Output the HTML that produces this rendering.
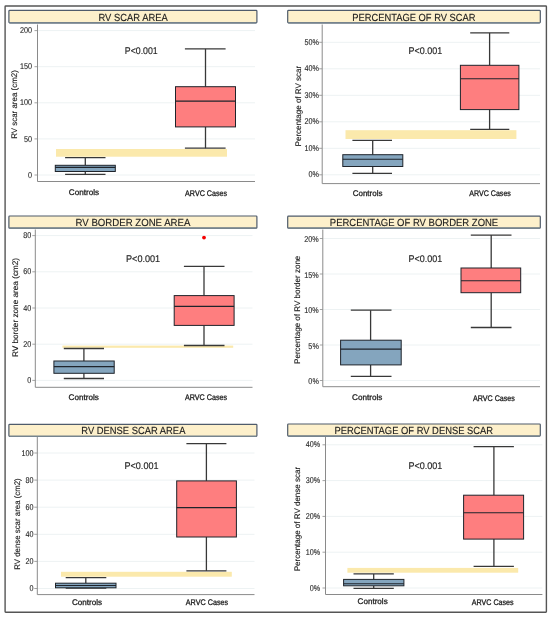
<!DOCTYPE html>
<html><head><meta charset="utf-8"><style>
html,body{margin:0;padding:0;background:#fff;}
body{width:550px;height:617px;overflow:hidden;}
svg{display:block;will-change:transform;text-rendering:geometricPrecision;font-family:"Liberation Sans",sans-serif;}
.t{fill:#1e1e1e;stroke:#1e1e1e;stroke-width:0.15px;}
.tc{fill:#1e1e1e;stroke:#1e1e1e;stroke-width:0.3px;}
.tl{fill:#262626;stroke:#262626;stroke-width:0.12px;}
</style></head><body>
<svg width="550" height="617" viewBox="0 0 550 617" xmlns="http://www.w3.org/2000/svg">
<rect x="5.1" y="5.95" width="541.3" height="606.25" fill="none" stroke="#555" stroke-width="1.4" rx="0.6"/>
<rect x="8.90" y="10.45" width="248.00" height="12.45" fill="#fdf0cb" stroke="#4f5b6b" stroke-width="1.2" rx="0.8"/>
<line x1="9.50" y1="22.90" x2="256.30" y2="22.90" stroke="#76858f" stroke-width="1.2"/>
<text x="98.50" y="20.60" font-size="10.3" class="t" textLength="69.20" lengthAdjust="spacingAndGlyphs" fill="#111">RV SCAR AREA</text>
<line x1="38.00" y1="175.00" x2="255.00" y2="175.00" stroke="#edf2f3" stroke-width="1"/>
<line x1="34.50" y1="175.00" x2="37.50" y2="175.00" stroke="#8a8a8a" stroke-width="0.8"/>
<text x="32.00" y="177.60" font-size="8.4" text-anchor="end" textLength="4.02" lengthAdjust="spacingAndGlyphs" class="tl">0</text>
<line x1="38.00" y1="138.90" x2="255.00" y2="138.90" stroke="#edf2f3" stroke-width="1"/>
<line x1="34.50" y1="138.90" x2="37.50" y2="138.90" stroke="#8a8a8a" stroke-width="0.8"/>
<text x="32.00" y="141.50" font-size="8.4" text-anchor="end" textLength="8.03" lengthAdjust="spacingAndGlyphs" class="tl">50</text>
<line x1="38.00" y1="102.80" x2="255.00" y2="102.80" stroke="#edf2f3" stroke-width="1"/>
<line x1="34.50" y1="102.80" x2="37.50" y2="102.80" stroke="#8a8a8a" stroke-width="0.8"/>
<text x="32.00" y="105.40" font-size="8.4" text-anchor="end" textLength="12.05" lengthAdjust="spacingAndGlyphs" class="tl">100</text>
<line x1="38.00" y1="66.70" x2="255.00" y2="66.70" stroke="#edf2f3" stroke-width="1"/>
<line x1="34.50" y1="66.70" x2="37.50" y2="66.70" stroke="#8a8a8a" stroke-width="0.8"/>
<text x="32.00" y="69.30" font-size="8.4" text-anchor="end" textLength="12.05" lengthAdjust="spacingAndGlyphs" class="tl">150</text>
<line x1="38.00" y1="30.60" x2="255.00" y2="30.60" stroke="#edf2f3" stroke-width="1"/>
<line x1="34.50" y1="30.60" x2="37.50" y2="30.60" stroke="#8a8a8a" stroke-width="0.8"/>
<text x="32.00" y="33.20" font-size="8.4" text-anchor="end" textLength="12.05" lengthAdjust="spacingAndGlyphs" class="tl">200</text>
<rect x="56" y="149" width="171.00" height="7.70" fill="#fbe9ac"/>
<line x1="85.3" y1="157.7" x2="85.3" y2="165.3" stroke="#383838" stroke-width="1.3"/>
<line x1="85.3" y1="171.5" x2="85.3" y2="174.3" stroke="#383838" stroke-width="1.3"/>
<line x1="65.1" y1="157.7" x2="105.5" y2="157.7" stroke="#383838" stroke-width="1.3"/>
<line x1="65.1" y1="174.3" x2="105.5" y2="174.3" stroke="#383838" stroke-width="1.3"/>
<rect x="55.3" y="165.3" width="60.00" height="6.20" fill="#84a5be" stroke="#1f242b" stroke-width="1"/>
<line x1="55.3" y1="167.4" x2="115.3" y2="167.4" stroke="#1f242b" stroke-width="1.1"/>
<line x1="205.5" y1="48.9" x2="205.5" y2="86.7" stroke="#383838" stroke-width="1.3"/>
<line x1="205.5" y1="126.9" x2="205.5" y2="148.2" stroke="#383838" stroke-width="1.3"/>
<line x1="184.9" y1="48.9" x2="225.6" y2="48.9" stroke="#383838" stroke-width="1.3"/>
<line x1="184.9" y1="148.2" x2="225.6" y2="148.2" stroke="#383838" stroke-width="1.3"/>
<rect x="175.5" y="86.7" width="60.00" height="40.20" fill="#fe7e7f" stroke="#1f242b" stroke-width="1"/>
<line x1="175.5" y1="101.1" x2="235.5" y2="101.1" stroke="#1f242b" stroke-width="1.1"/>
<line x1="37.5" y1="24.5" x2="37.5" y2="181.5" stroke="#8a8a8a" stroke-width="1"/>
<line x1="37.5" y1="181.5" x2="255" y2="181.5" stroke="#8a8a8a" stroke-width="1"/>
<text transform="translate(14.40,104.50) rotate(-90)" x="0" y="2.8" font-size="8.1" class="t" text-anchor="middle" textLength="68.6" lengthAdjust="spacingAndGlyphs" fill="#262626">RV scar area (cm2)</text>
<text x="124.8" y="53.8" font-size="9.7" class="t" textLength="32.90" lengthAdjust="spacingAndGlyphs" fill="#111">P&lt;0.001</text>
<text x="68.8" y="195.40" font-size="8.1" class="tc" textLength="30.30" lengthAdjust="spacingAndGlyphs" fill="#262626">Controls</text>
<text x="185.1" y="195.50" font-size="8.1" class="tc" textLength="42.00" lengthAdjust="spacingAndGlyphs" fill="#262626">ARVC Cases</text>
<rect x="287.70" y="10.45" width="252.60" height="12.45" fill="#fdf0cb" stroke="#4f5b6b" stroke-width="1.2" rx="0.8"/>
<line x1="288.30" y1="22.90" x2="539.70" y2="22.90" stroke="#76858f" stroke-width="1.2"/>
<text x="352.30" y="20.60" font-size="10.3" class="t" textLength="123.20" lengthAdjust="spacingAndGlyphs" fill="#111">PERCENTAGE OF RV SCAR</text>
<line x1="322.70" y1="174.80" x2="540.00" y2="174.80" stroke="#edf2f3" stroke-width="1"/>
<line x1="319.20" y1="174.80" x2="322.20" y2="174.80" stroke="#8a8a8a" stroke-width="0.8"/>
<text x="319.00" y="177.40" font-size="8.4" text-anchor="end" textLength="10.44" lengthAdjust="spacingAndGlyphs" class="tl">0%</text>
<line x1="322.70" y1="148.30" x2="540.00" y2="148.30" stroke="#edf2f3" stroke-width="1"/>
<line x1="319.20" y1="148.30" x2="322.20" y2="148.30" stroke="#8a8a8a" stroke-width="0.8"/>
<text x="319.00" y="150.90" font-size="8.4" text-anchor="end" textLength="14.46" lengthAdjust="spacingAndGlyphs" class="tl">10%</text>
<line x1="322.70" y1="121.80" x2="540.00" y2="121.80" stroke="#edf2f3" stroke-width="1"/>
<line x1="319.20" y1="121.80" x2="322.20" y2="121.80" stroke="#8a8a8a" stroke-width="0.8"/>
<text x="319.00" y="124.40" font-size="8.4" text-anchor="end" textLength="14.46" lengthAdjust="spacingAndGlyphs" class="tl">20%</text>
<line x1="322.70" y1="95.30" x2="540.00" y2="95.30" stroke="#edf2f3" stroke-width="1"/>
<line x1="319.20" y1="95.30" x2="322.20" y2="95.30" stroke="#8a8a8a" stroke-width="0.8"/>
<text x="319.00" y="97.90" font-size="8.4" text-anchor="end" textLength="14.46" lengthAdjust="spacingAndGlyphs" class="tl">30%</text>
<line x1="322.70" y1="68.80" x2="540.00" y2="68.80" stroke="#edf2f3" stroke-width="1"/>
<line x1="319.20" y1="68.80" x2="322.20" y2="68.80" stroke="#8a8a8a" stroke-width="0.8"/>
<text x="319.00" y="71.40" font-size="8.4" text-anchor="end" textLength="14.46" lengthAdjust="spacingAndGlyphs" class="tl">40%</text>
<line x1="322.70" y1="42.30" x2="540.00" y2="42.30" stroke="#edf2f3" stroke-width="1"/>
<line x1="319.20" y1="42.30" x2="322.20" y2="42.30" stroke="#8a8a8a" stroke-width="0.8"/>
<text x="319.00" y="44.90" font-size="8.4" text-anchor="end" textLength="14.46" lengthAdjust="spacingAndGlyphs" class="tl">50%</text>
<rect x="345.5" y="130.2" width="170.90" height="8.80" fill="#fbe9ac"/>
<line x1="372.7" y1="140.3" x2="372.7" y2="154.7" stroke="#383838" stroke-width="1.3"/>
<line x1="372.7" y1="166.5" x2="372.7" y2="173.3" stroke="#383838" stroke-width="1.3"/>
<line x1="352.4" y1="140.3" x2="392" y2="140.3" stroke="#383838" stroke-width="1.3"/>
<line x1="352.4" y1="173.3" x2="392" y2="173.3" stroke="#383838" stroke-width="1.3"/>
<rect x="342.8" y="154.7" width="60.00" height="11.80" fill="#84a5be" stroke="#1f242b" stroke-width="1"/>
<line x1="342.8" y1="159.3" x2="402.8" y2="159.3" stroke="#1f242b" stroke-width="1.1"/>
<line x1="489.6" y1="32.9" x2="489.6" y2="65.3" stroke="#383838" stroke-width="1.3"/>
<line x1="489.6" y1="109.6" x2="489.6" y2="129.3" stroke="#383838" stroke-width="1.3"/>
<line x1="470.2" y1="32.9" x2="509.3" y2="32.9" stroke="#383838" stroke-width="1.3"/>
<line x1="470.2" y1="129.3" x2="509.3" y2="129.3" stroke="#383838" stroke-width="1.3"/>
<rect x="460.4" y="65.3" width="58.50" height="44.30" fill="#fe7e7f" stroke="#1f242b" stroke-width="1"/>
<line x1="460.4" y1="78.8" x2="518.9" y2="78.8" stroke="#1f242b" stroke-width="1.1"/>
<line x1="322.2" y1="24.5" x2="322.2" y2="183.6" stroke="#8a8a8a" stroke-width="1"/>
<line x1="322.2" y1="183.6" x2="540" y2="183.6" stroke="#8a8a8a" stroke-width="1"/>
<text transform="translate(298.10,106.10) rotate(-90)" x="0" y="2.8" font-size="8.1" class="t" text-anchor="middle" textLength="80.6" lengthAdjust="spacingAndGlyphs" fill="#262626">Percentage of RV scar</text>
<text x="408.6" y="54.0" font-size="9.7" class="t" textLength="33.60" lengthAdjust="spacingAndGlyphs" fill="#111">P&lt;0.001</text>
<text x="352.7" y="195.50" font-size="8.1" class="tc" textLength="29.80" lengthAdjust="spacingAndGlyphs" fill="#262626">Controls</text>
<text x="469.3" y="195.50" font-size="8.1" class="tc" textLength="41.60" lengthAdjust="spacingAndGlyphs" fill="#262626">ARVC Cases</text>
<rect x="8.90" y="216.00" width="248.00" height="12.20" fill="#fdf0cb" stroke="#4f5b6b" stroke-width="1.2" rx="0.8"/>
<line x1="9.50" y1="228.20" x2="256.30" y2="228.20" stroke="#76858f" stroke-width="1.2"/>
<text x="75.50" y="226.20" font-size="10.3" class="t" textLength="114.90" lengthAdjust="spacingAndGlyphs" fill="#111">RV BORDER ZONE AREA</text>
<line x1="35.80" y1="380.40" x2="252.50" y2="380.40" stroke="#edf2f3" stroke-width="1"/>
<line x1="32.30" y1="380.40" x2="35.30" y2="380.40" stroke="#8a8a8a" stroke-width="0.8"/>
<text x="31.30" y="383.00" font-size="8.4" text-anchor="end" textLength="4.02" lengthAdjust="spacingAndGlyphs" class="tl">0</text>
<line x1="35.80" y1="344.20" x2="252.50" y2="344.20" stroke="#edf2f3" stroke-width="1"/>
<line x1="32.30" y1="344.20" x2="35.30" y2="344.20" stroke="#8a8a8a" stroke-width="0.8"/>
<text x="31.30" y="346.80" font-size="8.4" text-anchor="end" textLength="8.03" lengthAdjust="spacingAndGlyphs" class="tl">20</text>
<line x1="35.80" y1="308.00" x2="252.50" y2="308.00" stroke="#edf2f3" stroke-width="1"/>
<line x1="32.30" y1="308.00" x2="35.30" y2="308.00" stroke="#8a8a8a" stroke-width="0.8"/>
<text x="31.30" y="310.60" font-size="8.4" text-anchor="end" textLength="8.03" lengthAdjust="spacingAndGlyphs" class="tl">40</text>
<line x1="35.80" y1="271.80" x2="252.50" y2="271.80" stroke="#edf2f3" stroke-width="1"/>
<line x1="32.30" y1="271.80" x2="35.30" y2="271.80" stroke="#8a8a8a" stroke-width="0.8"/>
<text x="31.30" y="274.40" font-size="8.4" text-anchor="end" textLength="8.03" lengthAdjust="spacingAndGlyphs" class="tl">60</text>
<line x1="35.80" y1="235.60" x2="252.50" y2="235.60" stroke="#edf2f3" stroke-width="1"/>
<line x1="32.30" y1="235.60" x2="35.30" y2="235.60" stroke="#8a8a8a" stroke-width="0.8"/>
<text x="31.30" y="238.20" font-size="8.4" text-anchor="end" textLength="8.03" lengthAdjust="spacingAndGlyphs" class="tl">80</text>
<rect x="62.4" y="345.6" width="170.80" height="2.20" fill="#fbe9ac"/>
<line x1="83.9" y1="348.5" x2="83.9" y2="361" stroke="#383838" stroke-width="1.3"/>
<line x1="83.9" y1="373.3" x2="83.9" y2="378.5" stroke="#383838" stroke-width="1.3"/>
<line x1="63.8" y1="348.5" x2="104" y2="348.5" stroke="#383838" stroke-width="1.3"/>
<line x1="63.8" y1="378.5" x2="104" y2="378.5" stroke="#383838" stroke-width="1.3"/>
<rect x="53.9" y="361" width="60.30" height="12.30" fill="#84a5be" stroke="#1f242b" stroke-width="1"/>
<line x1="53.9" y1="366.6" x2="114.2" y2="366.6" stroke="#1f242b" stroke-width="1.1"/>
<line x1="204" y1="266.4" x2="204" y2="295.6" stroke="#383838" stroke-width="1.3"/>
<line x1="204" y1="325.4" x2="204" y2="345.5" stroke="#383838" stroke-width="1.3"/>
<line x1="183.9" y1="266.4" x2="224.5" y2="266.4" stroke="#383838" stroke-width="1.3"/>
<line x1="183.9" y1="345.5" x2="224.5" y2="345.5" stroke="#383838" stroke-width="1.3"/>
<rect x="174.2" y="295.6" width="59.90" height="29.80" fill="#fe7e7f" stroke="#1f242b" stroke-width="1"/>
<line x1="174.2" y1="306.4" x2="234.1" y2="306.4" stroke="#1f242b" stroke-width="1.1"/>
<circle cx="204" cy="237.6" r="1.9" fill="#f40000"/>
<line x1="35.3" y1="229.5" x2="35.3" y2="387.3" stroke="#8a8a8a" stroke-width="1"/>
<line x1="35.3" y1="387.3" x2="252.5" y2="387.3" stroke="#8a8a8a" stroke-width="1"/>
<text transform="translate(15.00,307.50) rotate(-90)" x="0" y="2.8" font-size="8.1" class="t" text-anchor="middle" textLength="99.2" lengthAdjust="spacingAndGlyphs" fill="#262626">RV border zone  area (cm2)</text>
<text x="126" y="262.0" font-size="9.7" class="t" textLength="34.20" lengthAdjust="spacingAndGlyphs" fill="#111">P&lt;0.001</text>
<text x="68.5" y="400.30" font-size="8.1" class="tc" textLength="30.30" lengthAdjust="spacingAndGlyphs" fill="#262626">Controls</text>
<text x="184.9" y="400.30" font-size="8.1" class="tc" textLength="42.20" lengthAdjust="spacingAndGlyphs" fill="#262626">ARVC Cases</text>
<rect x="287.70" y="216.20" width="252.60" height="12.00" fill="#fdf0cb" stroke="#4f5b6b" stroke-width="1.2" rx="0.8"/>
<line x1="288.30" y1="228.20" x2="539.70" y2="228.20" stroke="#76858f" stroke-width="1.2"/>
<text x="329.80" y="226.30" font-size="10.3" class="t" textLength="168.40" lengthAdjust="spacingAndGlyphs" fill="#111">PERCENTAGE OF RV BORDER ZONE</text>
<line x1="323.30" y1="380.50" x2="540.00" y2="380.50" stroke="#edf2f3" stroke-width="1"/>
<line x1="319.80" y1="380.50" x2="322.80" y2="380.50" stroke="#8a8a8a" stroke-width="0.8"/>
<text x="318.80" y="384.10" font-size="8.4" text-anchor="end" textLength="10.44" lengthAdjust="spacingAndGlyphs" class="tl">0%</text>
<line x1="323.30" y1="345.00" x2="540.00" y2="345.00" stroke="#edf2f3" stroke-width="1"/>
<line x1="319.80" y1="345.00" x2="322.80" y2="345.00" stroke="#8a8a8a" stroke-width="0.8"/>
<text x="318.80" y="348.60" font-size="8.4" text-anchor="end" textLength="10.44" lengthAdjust="spacingAndGlyphs" class="tl">5%</text>
<line x1="323.30" y1="309.50" x2="540.00" y2="309.50" stroke="#edf2f3" stroke-width="1"/>
<line x1="319.80" y1="309.50" x2="322.80" y2="309.50" stroke="#8a8a8a" stroke-width="0.8"/>
<text x="318.80" y="313.10" font-size="8.4" text-anchor="end" textLength="14.46" lengthAdjust="spacingAndGlyphs" class="tl">10%</text>
<line x1="323.30" y1="274.00" x2="540.00" y2="274.00" stroke="#edf2f3" stroke-width="1"/>
<line x1="319.80" y1="274.00" x2="322.80" y2="274.00" stroke="#8a8a8a" stroke-width="0.8"/>
<text x="318.80" y="277.60" font-size="8.4" text-anchor="end" textLength="14.46" lengthAdjust="spacingAndGlyphs" class="tl">15%</text>
<line x1="323.30" y1="238.50" x2="540.00" y2="238.50" stroke="#edf2f3" stroke-width="1"/>
<line x1="319.80" y1="238.50" x2="322.80" y2="238.50" stroke="#8a8a8a" stroke-width="0.8"/>
<text x="318.80" y="242.10" font-size="8.4" text-anchor="end" textLength="14.46" lengthAdjust="spacingAndGlyphs" class="tl">20%</text>
<line x1="370.6" y1="310.2" x2="370.6" y2="340.2" stroke="#383838" stroke-width="1.3"/>
<line x1="370.6" y1="364.9" x2="370.6" y2="376.4" stroke="#383838" stroke-width="1.3"/>
<line x1="350.8" y1="310.2" x2="391.5" y2="310.2" stroke="#383838" stroke-width="1.3"/>
<line x1="350.8" y1="376.4" x2="391.5" y2="376.4" stroke="#383838" stroke-width="1.3"/>
<rect x="340.6" y="340.2" width="60.60" height="24.70" fill="#84a5be" stroke="#1f242b" stroke-width="1"/>
<line x1="340.6" y1="349.1" x2="401.2" y2="349.1" stroke="#1f242b" stroke-width="1.1"/>
<line x1="491.2" y1="235.1" x2="491.2" y2="268" stroke="#383838" stroke-width="1.3"/>
<line x1="491.2" y1="292.7" x2="491.2" y2="327.5" stroke="#383838" stroke-width="1.3"/>
<line x1="470.8" y1="235.1" x2="511.5" y2="235.1" stroke="#383838" stroke-width="1.3"/>
<line x1="470.8" y1="327.5" x2="511.5" y2="327.5" stroke="#383838" stroke-width="1.3"/>
<rect x="461" y="268" width="59.70" height="24.70" fill="#fe7e7f" stroke="#1f242b" stroke-width="1"/>
<line x1="461" y1="280.7" x2="520.7" y2="280.7" stroke="#1f242b" stroke-width="1.1"/>
<line x1="322.8" y1="229.5" x2="322.8" y2="386.7" stroke="#8a8a8a" stroke-width="1"/>
<line x1="322.8" y1="386.7" x2="540" y2="386.7" stroke="#8a8a8a" stroke-width="1"/>
<text transform="translate(297.40,309.80) rotate(-90)" x="0" y="2.8" font-size="8.1" class="t" text-anchor="middle" textLength="108.2" lengthAdjust="spacingAndGlyphs" fill="#262626">Percentage of RV border zone</text>
<text x="408.6" y="262.3" font-size="9.7" class="t" textLength="33.60" lengthAdjust="spacingAndGlyphs" fill="#111">P&lt;0.001</text>
<text x="352" y="400.40" font-size="8.1" class="tc" textLength="30.30" lengthAdjust="spacingAndGlyphs" fill="#262626">Controls</text>
<text x="473" y="400.70" font-size="8.1" class="tc" textLength="41.90" lengthAdjust="spacingAndGlyphs" fill="#262626">ARVC Cases</text>
<rect x="8.90" y="424.30" width="248.00" height="12.10" fill="#fdf0cb" stroke="#4f5b6b" stroke-width="1.2" rx="0.8"/>
<line x1="9.50" y1="436.40" x2="256.30" y2="436.40" stroke="#76858f" stroke-width="1.2"/>
<text x="81.30" y="434.20" font-size="10.3" class="t" textLength="104.10" lengthAdjust="spacingAndGlyphs" fill="#111">RV DENSE SCAR AREA</text>
<line x1="37.80" y1="588.50" x2="254.50" y2="588.50" stroke="#edf2f3" stroke-width="1"/>
<line x1="34.30" y1="588.50" x2="37.30" y2="588.50" stroke="#8a8a8a" stroke-width="0.8"/>
<text x="33.60" y="591.10" font-size="8.4" text-anchor="end" textLength="4.02" lengthAdjust="spacingAndGlyphs" class="tl">0</text>
<line x1="37.80" y1="561.40" x2="254.50" y2="561.40" stroke="#edf2f3" stroke-width="1"/>
<line x1="34.30" y1="561.40" x2="37.30" y2="561.40" stroke="#8a8a8a" stroke-width="0.8"/>
<text x="33.60" y="564.00" font-size="8.4" text-anchor="end" textLength="8.03" lengthAdjust="spacingAndGlyphs" class="tl">20</text>
<line x1="37.80" y1="534.30" x2="254.50" y2="534.30" stroke="#edf2f3" stroke-width="1"/>
<line x1="34.30" y1="534.30" x2="37.30" y2="534.30" stroke="#8a8a8a" stroke-width="0.8"/>
<text x="33.60" y="536.90" font-size="8.4" text-anchor="end" textLength="8.03" lengthAdjust="spacingAndGlyphs" class="tl">40</text>
<line x1="37.80" y1="507.20" x2="254.50" y2="507.20" stroke="#edf2f3" stroke-width="1"/>
<line x1="34.30" y1="507.20" x2="37.30" y2="507.20" stroke="#8a8a8a" stroke-width="0.8"/>
<text x="33.60" y="509.80" font-size="8.4" text-anchor="end" textLength="8.03" lengthAdjust="spacingAndGlyphs" class="tl">60</text>
<line x1="37.80" y1="480.10" x2="254.50" y2="480.10" stroke="#edf2f3" stroke-width="1"/>
<line x1="34.30" y1="480.10" x2="37.30" y2="480.10" stroke="#8a8a8a" stroke-width="0.8"/>
<text x="33.60" y="482.70" font-size="8.4" text-anchor="end" textLength="8.03" lengthAdjust="spacingAndGlyphs" class="tl">80</text>
<line x1="37.80" y1="453.00" x2="254.50" y2="453.00" stroke="#edf2f3" stroke-width="1"/>
<line x1="34.30" y1="453.00" x2="37.30" y2="453.00" stroke="#8a8a8a" stroke-width="0.8"/>
<text x="33.60" y="455.60" font-size="8.4" text-anchor="end" textLength="12.05" lengthAdjust="spacingAndGlyphs" class="tl">100</text>
<rect x="61" y="571.8" width="170.80" height="4.90" fill="#fbe9ac"/>
<line x1="85.8" y1="577.7" x2="85.8" y2="583.2" stroke="#383838" stroke-width="1.3"/>
<line x1="85.8" y1="587.8" x2="85.8" y2="588.1" stroke="#383838" stroke-width="1.3"/>
<line x1="65.7" y1="577.7" x2="106.3" y2="577.7" stroke="#383838" stroke-width="1.3"/>
<line x1="65.7" y1="588.1" x2="106.3" y2="588.1" stroke="#383838" stroke-width="1.3"/>
<rect x="55.5" y="583.2" width="60.50" height="4.60" fill="#84a5be" stroke="#1f242b" stroke-width="1"/>
<line x1="55.5" y1="585.5" x2="116" y2="585.5" stroke="#1f242b" stroke-width="1.1"/>
<line x1="206.4" y1="443.6" x2="206.4" y2="480.9" stroke="#383838" stroke-width="1.3"/>
<line x1="206.4" y1="537" x2="206.4" y2="570.9" stroke="#383838" stroke-width="1.3"/>
<line x1="186.4" y1="443.6" x2="226.4" y2="443.6" stroke="#383838" stroke-width="1.3"/>
<line x1="186.4" y1="570.9" x2="226.4" y2="570.9" stroke="#383838" stroke-width="1.3"/>
<rect x="176.7" y="480.9" width="59.70" height="56.10" fill="#fe7e7f" stroke="#1f242b" stroke-width="1"/>
<line x1="176.7" y1="507.6" x2="236.4" y2="507.6" stroke="#1f242b" stroke-width="1.1"/>
<line x1="37.3" y1="437" x2="37.3" y2="594.6" stroke="#8a8a8a" stroke-width="1"/>
<line x1="37.3" y1="594.6" x2="254.5" y2="594.6" stroke="#8a8a8a" stroke-width="1"/>
<text transform="translate(17.00,524.00) rotate(-90)" x="0" y="2.8" font-size="8.1" class="t" text-anchor="middle" textLength="91.5" lengthAdjust="spacingAndGlyphs" fill="#262626">RV dense scar area (cm2)</text>
<text x="124.5" y="468.7" font-size="9.7" class="t" textLength="34.00" lengthAdjust="spacingAndGlyphs" fill="#111">P&lt;0.001</text>
<text x="72" y="604.50" font-size="8.1" class="tc" textLength="30.00" lengthAdjust="spacingAndGlyphs" fill="#262626">Controls</text>
<text x="185.8" y="604.60" font-size="8.1" class="tc" textLength="42.40" lengthAdjust="spacingAndGlyphs" fill="#262626">ARVC Cases</text>
<rect x="287.70" y="424.00" width="252.60" height="12.10" fill="#fdf0cb" stroke="#4f5b6b" stroke-width="1.2" rx="0.8"/>
<line x1="288.30" y1="436.10" x2="539.70" y2="436.10" stroke="#76858f" stroke-width="1.2"/>
<text x="334.50" y="434.20" font-size="10.3" class="t" textLength="158.60" lengthAdjust="spacingAndGlyphs" fill="#111">PERCENTAGE OF RV DENSE SCAR</text>
<line x1="326.00" y1="588.00" x2="542.40" y2="588.00" stroke="#edf2f3" stroke-width="1"/>
<line x1="322.50" y1="588.00" x2="325.50" y2="588.00" stroke="#8a8a8a" stroke-width="0.8"/>
<text x="320.20" y="590.60" font-size="8.4" text-anchor="end" textLength="10.44" lengthAdjust="spacingAndGlyphs" class="tl">0%</text>
<line x1="326.00" y1="552.20" x2="542.40" y2="552.20" stroke="#edf2f3" stroke-width="1"/>
<line x1="322.50" y1="552.20" x2="325.50" y2="552.20" stroke="#8a8a8a" stroke-width="0.8"/>
<text x="320.20" y="554.80" font-size="8.4" text-anchor="end" textLength="14.46" lengthAdjust="spacingAndGlyphs" class="tl">10%</text>
<line x1="326.00" y1="516.40" x2="542.40" y2="516.40" stroke="#edf2f3" stroke-width="1"/>
<line x1="322.50" y1="516.40" x2="325.50" y2="516.40" stroke="#8a8a8a" stroke-width="0.8"/>
<text x="320.20" y="519.00" font-size="8.4" text-anchor="end" textLength="14.46" lengthAdjust="spacingAndGlyphs" class="tl">20%</text>
<line x1="326.00" y1="480.60" x2="542.40" y2="480.60" stroke="#edf2f3" stroke-width="1"/>
<line x1="322.50" y1="480.60" x2="325.50" y2="480.60" stroke="#8a8a8a" stroke-width="0.8"/>
<text x="320.20" y="483.20" font-size="8.4" text-anchor="end" textLength="14.46" lengthAdjust="spacingAndGlyphs" class="tl">30%</text>
<line x1="326.00" y1="444.80" x2="542.40" y2="444.80" stroke="#edf2f3" stroke-width="1"/>
<line x1="322.50" y1="444.80" x2="325.50" y2="444.80" stroke="#8a8a8a" stroke-width="0.8"/>
<text x="320.20" y="447.40" font-size="8.4" text-anchor="end" textLength="14.46" lengthAdjust="spacingAndGlyphs" class="tl">40%</text>
<rect x="347.4" y="567.9" width="170.80" height="4.80" fill="#fbe9ac"/>
<line x1="373.7" y1="573.9" x2="373.7" y2="579.4" stroke="#383838" stroke-width="1.3"/>
<line x1="373.7" y1="585.8" x2="373.7" y2="588.4" stroke="#383838" stroke-width="1.3"/>
<line x1="353.5" y1="573.9" x2="393.8" y2="573.9" stroke="#383838" stroke-width="1.3"/>
<line x1="353.5" y1="588.4" x2="393.8" y2="588.4" stroke="#383838" stroke-width="1.3"/>
<rect x="343.6" y="579.4" width="60.30" height="6.40" fill="#84a5be" stroke="#1f242b" stroke-width="1"/>
<line x1="343.6" y1="583.7" x2="403.9" y2="583.7" stroke="#1f242b" stroke-width="1.1"/>
<line x1="493.9" y1="446.7" x2="493.9" y2="495.2" stroke="#383838" stroke-width="1.3"/>
<line x1="493.9" y1="539.1" x2="493.9" y2="566.4" stroke="#383838" stroke-width="1.3"/>
<line x1="473.6" y1="446.7" x2="513.9" y2="446.7" stroke="#383838" stroke-width="1.3"/>
<line x1="473.6" y1="566.4" x2="513.9" y2="566.4" stroke="#383838" stroke-width="1.3"/>
<rect x="463.6" y="495.2" width="60.00" height="43.90" fill="#fe7e7f" stroke="#1f242b" stroke-width="1"/>
<line x1="463.6" y1="512.7" x2="523.6" y2="512.7" stroke="#1f242b" stroke-width="1.1"/>
<line x1="325.5" y1="437" x2="325.5" y2="594.5" stroke="#8a8a8a" stroke-width="1"/>
<line x1="325.5" y1="594.5" x2="542.4" y2="594.5" stroke="#8a8a8a" stroke-width="1"/>
<text transform="translate(297.50,519.10) rotate(-90)" x="0" y="2.8" font-size="8.1" class="t" text-anchor="middle" textLength="104.3" lengthAdjust="spacingAndGlyphs" fill="#262626">Percentage of RV dense scar</text>
<text x="408.5" y="468.7" font-size="9.7" class="t" textLength="33.90" lengthAdjust="spacingAndGlyphs" fill="#111">P&lt;0.001</text>
<text x="357.6" y="603.90" font-size="8.1" class="tc" textLength="30.10" lengthAdjust="spacingAndGlyphs" fill="#262626">Controls</text>
<text x="471.8" y="604.60" font-size="8.1" class="tc" textLength="41.80" lengthAdjust="spacingAndGlyphs" fill="#262626">ARVC Cases</text>
</svg>
</body></html>
